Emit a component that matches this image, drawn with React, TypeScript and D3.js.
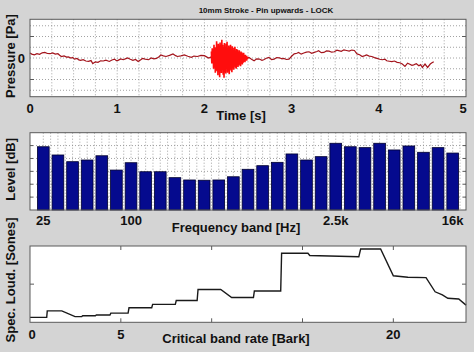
import * as d3 from "d3";

// pressure signal, time [s] vs pressure [Pa]
const pressureBefore: [number, number][] = [
  [0.00,0.23],[0.02,0.18],[0.05,0.15],[0.08,0.20],[0.11,0.17],[0.14,0.24],[0.17,0.26],[0.20,0.21],
  [0.23,0.20],[0.26,0.24],[0.29,0.18],[0.32,0.20],[0.34,0.13],[0.36,0.07],[0.39,0.10],[0.42,0.04],
  [0.44,0.05],[0.47,0.00],[0.49,0.03],[0.51,-0.05],[0.54,-0.02],[0.56,-0.09],[0.58,-0.11],[0.61,-0.08],
  [0.64,-0.14],[0.67,-0.16],[0.70,-0.12],[0.72,-0.26],[0.75,-0.18],[0.78,-0.20],[0.81,-0.13],[0.84,-0.14],
  [0.87,-0.10],[0.91,-0.16],[0.94,-0.09],[0.97,-0.05],[0.99,-0.12],[1.01,-0.11],[1.04,-0.04],[1.07,-0.08],
  [1.10,-0.03],[1.12,0.00],[1.15,-0.06],[1.18,-0.11],[1.21,-0.07],[1.24,-0.16],[1.27,-0.08],[1.29,-0.02],
  [1.32,-0.05],[1.36,-0.08],[1.39,0.00],[1.42,-0.04],[1.45,-0.02],[1.48,0.06],[1.50,0.14],[1.53,0.10],
  [1.56,0.07],[1.60,0.12],[1.64,0.19],[1.67,0.11],[1.69,0.07],[1.73,0.10],[1.77,0.14],[1.81,0.08],
  [1.85,0.03],[1.88,0.09],[1.92,0.07],[1.96,0.12],[2.00,0.11],[2.03,0.04],[2.05,0.00],[2.08,0.05],
];

// the rattle burst, sampled every 5 ms from 2.08 s
const burstStart = 2.08;
const burstStep = 0.005;
const burstValues = [
  0.3,-0.25,0.45,-0.2,0.38,-0.5,0.62,-0.4,0.5,-0.68,
  0.45,-0.55,0.78,-0.62,0.52,-0.8,0.66,-0.48,0.58,-0.9,
  0.72,-0.6,0.48,-0.7,0.85,-0.55,0.62,-0.78,0.5,-0.92,
  0.7,-0.58,0.45,-0.72,0.66,-0.5,0.75,-0.68,0.42,-0.62,
  0.58,-0.75,0.5,-0.45,0.62,-0.58,0.4,-0.66,0.55,-0.42,
  0.35,-0.55,0.48,-0.38,0.52,-0.45,0.3,-0.5,0.42,-0.3,
  0.38,-0.42,0.25,-0.35,0.36,-0.28,0.22,-0.38,0.3,-0.2,
  0.26,-0.3,0.18,-0.22,0.24,-0.15,0.12,-0.2,0.15,-0.08,
  0.1,-0.12,0.06,-0.04,0.03,
];

const pressureAfter: [number, number][] = [
  [2.50,0.02],[2.51,0.03],[2.54,-0.06],[2.57,-0.13],[2.60,-0.04],[2.63,-0.05],[2.66,-0.11],[2.68,-0.08],
  [2.71,-0.01],[2.74,0.03],[2.77,-0.07],[2.80,-0.05],[2.83,0.02],[2.86,0.01],[2.89,-0.04],[2.91,-0.02],
  [2.94,-0.07],[2.97,-0.05],[3.00,0.08],[3.03,0.19],[3.06,0.22],[3.08,0.26],[3.11,0.18],[3.14,0.23],
  [3.17,0.27],[3.20,0.29],[3.23,0.22],[3.26,0.26],[3.29,0.30],[3.31,0.34],[3.34,0.25],[3.37,0.26],
  [3.40,0.33],[3.43,0.32],[3.46,0.27],[3.49,0.29],[3.52,0.36],[3.54,0.34],[3.57,0.31],[3.60,0.38],
  [3.63,0.35],[3.66,0.32],[3.69,0.37],[3.72,0.35],[3.75,0.19],[3.78,0.15],[3.81,0.07],[3.84,0.11],
  [3.86,0.14],[3.89,0.09],[3.92,0.07],[3.95,0.02],[3.98,-0.02],[4.01,-0.06],[4.04,-0.08],[4.07,-0.05],
  [4.09,-0.13],[4.12,-0.15],[4.15,-0.17],[4.18,-0.14],[4.21,-0.20],[4.24,-0.22],[4.27,-0.28],[4.30,-0.39],
  [4.33,-0.24],[4.35,-0.28],[4.38,-0.34],[4.40,-0.32],[4.43,-0.27],[4.46,-0.36],[4.48,-0.31],[4.50,-0.44],
  [4.53,-0.28],[4.56,-0.44],[4.59,-0.28],[4.61,-0.22],[4.63,-0.17],
];

// third-octave bands and levels [dB]
const bands = [
  "25","31.5","40","50","63","80","100","125","160","200","250","315","400","500","630",
  "800","1k","1.25k","1.6k","2k","2.5k","3.15k","4k","5k","6.3k","8k","10k","12.5k","16k",
];
const levels = [
  49.1,42.7,37.5,38.8,42.1,31.0,36.7,29.7,29.7,25.1,23.3,23.1,23.3,25.8,31.6,
  34.4,37.0,43.5,38.8,41.4,51.8,49.1,48.4,51.8,46.6,49.7,44.8,48.4,44.2,
];
const bandLabels = ["25", "100", "2.5k", "16k"];

// specific loudness [sones] vs critical band rate [Bark]
const loudness: [number, number][] = [
  [0,0.13],[0.92,0.13],[0.95,0.30],[1.75,0.30],[2.48,0.15],[2.85,0.15],[2.9,0.17],[3.6,0.17],
  [3.65,0.19],[4.4,0.19],[4.45,0.24],[5.4,0.24],[5.45,0.38],[6.7,0.38],[6.75,0.47],[8.0,0.47],
  [8.05,0.57],[9.2,0.57],[9.25,0.86],[10.5,0.86],[11.1,0.65],[12.3,0.65],[12.35,0.82],[13.8,0.82],
  [13.85,1.81],[15.3,1.81],[15.4,1.75],[18.1,1.72],[18.2,1.92],[19.3,1.92],[20.0,1.22],[20.8,1.18],
  [21.8,1.17],[22.3,0.80],[22.7,0.72],[23.0,0.63],[23.6,0.61],[24,0.45],
];
const barkLabels = [0, 5, 20];

const W = 474;
const H = 352;
const L = 30;
const R = 466;
const font = "'Liberation Sans', Arial, sans-serif";
const gridColor = "#8a8a8a";
const frame = "#5a5a5a";

export default function App() {
  // panel 1
  const x1 = d3.scaleLinear().domain([0, 5]).range([L, R]);
  const y1 = d3.scaleLinear().domain([-1.8, 1.8]).range([96.7, 19.3]);
  const line1 = d3.line<[number, number]>().x(d => x1(d[0])).y(d => y1(d[1]));
  const burst = burstValues.map((v, i) => [burstStart + i * burstStep, v] as [number, number]);

  // panel 2
  const x2 = d3.scaleBand<string>().domain(bands).range([L, R]).paddingInner(0.2).paddingOuter(0.51);
  const y2 = d3.scaleLinear().domain([0, 60]).range([210, 132.7]);
  const step = x2.step();
  const bandGrid: number[] = [];
  bands.forEach(b => {
    const c = (x2(b) ?? 0) + x2.bandwidth() / 2;
    bandGrid.push(c, c + step / 2);
  });

  // panel 3
  const x3 = d3.scaleLinear().domain([0, 24]).range([L, R]);
  const y3 = d3.scaleLinear().domain([0, 2]).range([322.3, 246]);
  const line3 = d3.line<[number, number]>().x(d => x3(d[0])).y(d => y3(d[1]));

  const lbl = { fontFamily: font, fontWeight: 700, fontSize: 13, fill: "#111" } as const;

  return (
    <svg width={W} height={H} style={{ position: "absolute", left: 0, top: 0 }}>
      <rect width={W} height={H} fill="#d4d4d4" />

      {/* ---------- panel 1 ---------- */}
      <text x={266} y={13} textAnchor="middle" style={{ fontFamily: font, fontWeight: 700, fontSize: 8, fill: "#111" }}>
        10mm Stroke - Pin upwards - LOCK
      </text>
      <rect x={L} y={y1(1.8)} width={R - L} height={y1(-1.8) - y1(1.8)} fill="#fff" />
      {d3.range(0.25, 5, 0.25).map(t => (
        <line key={t} x1={x1(t)} x2={x1(t)} y1={y1(1.8)} y2={y1(-1.8)} stroke={gridColor} strokeWidth={0.8} strokeDasharray="1,2" />
      ))}
      {d3.range(-1.5, 1.51, 0.5).map(v => (
        <line key={v} x1={L} x2={R} y1={y1(v)} y2={y1(v)} stroke={gridColor} strokeWidth={0.8} strokeDasharray="1,2" />
      ))}
      {[-1, 1].map(v => (
        <g key={v}>
          <line x1={L} x2={L + 4} y1={y1(v)} y2={y1(v)} stroke={frame} />
          <line x1={R - 4} x2={R} y1={y1(v)} y2={y1(v)} stroke={frame} />
        </g>
      ))}
      <path d={line1(pressureBefore) ?? ""} fill="none" stroke="#a3141c" strokeWidth={1.2} />
      <path d={line1(pressureAfter) ?? ""} fill="none" stroke="#a3141c" strokeWidth={1.2} />
      <path d={line1(burst) ?? ""} fill="none" stroke="#ff0d0d" strokeWidth={1.6} />
      <rect x={L} y={y1(1.8)} width={R - L} height={y1(-1.8) - y1(1.8)} fill="none" stroke={frame} />
      <text x={25} y={y1(0) + 5} textAnchor="end" style={lbl}>0</text>
      {d3.range(0, 6).map(t => (
        <text key={t} x={Math.min(x1(t), 463)} y={113} textAnchor="middle" style={lbl}>{t}</text>
      ))}
      <text x={241} y={120} textAnchor="middle" style={lbl}>Time [s]</text>
      <text transform={`translate(15,${(y1(1.8) + y1(-1.8)) / 2 - 2}) rotate(-90)`} textAnchor="middle" style={lbl}>
        Pressure [Pa]
      </text>

      {/* ---------- panel 2 ---------- */}
      <rect x={L} y={y2(60)} width={R - L} height={y2(0) - y2(60)} fill="#fff" />
      {bandGrid.map((g, i) => (
        <line key={i} x1={g} x2={g} y1={y2(60)} y2={y2(0)} stroke={gridColor} strokeWidth={0.8} strokeDasharray="1,2" />
      ))}
      {d3.range(10, 60, 10).map(v => (
        <g key={v}>
          <line x1={L} x2={R} y1={y2(v)} y2={y2(v)} stroke={gridColor} strokeWidth={0.8} strokeDasharray="1,2" />
          <line x1={L} x2={L + 3} y1={y2(v)} y2={y2(v)} stroke={frame} />
          <line x1={R - 3} x2={R} y1={y2(v)} y2={y2(v)} stroke={frame} />
        </g>
      ))}
      {bands.map((b, i) => (
        <rect key={b} x={x2(b)} y={y2(levels[i])} width={x2.bandwidth()} height={y2(0) - y2(levels[i])}
          fill="#050a8e" stroke="#00002e" strokeWidth={0.8} />
      ))}
      <rect x={L} y={y2(60)} width={R - L} height={y2(0) - y2(60)} fill="none" stroke={frame} />
      {bandLabels.map(b => (
        <text key={b} x={(x2(b) ?? 0) + x2.bandwidth() / 2} y={225} textAnchor="middle" style={lbl}>{b}</text>
      ))}
      <text x={236} y={232} textAnchor="middle" style={lbl}>Frequency band [Hz]</text>
      <text transform={`translate(15,${(y2(60) + y2(0)) / 2 - 2}) rotate(-90)`} textAnchor="middle" style={lbl}>
        Level [dB]
      </text>

      {/* ---------- panel 3 ---------- */}
      <rect x={L} y={y3(2)} width={R - L} height={y3(0) - y3(2)} fill="#fff" />
      {[5, 10, 15, 20].map(b => (
        <g key={b}>
          <line x1={x3(b)} x2={x3(b)} y1={y3(2)} y2={y3(2) + 4} stroke={frame} />
          <line x1={x3(b)} x2={x3(b)} y1={y3(0) - 4} y2={y3(0)} stroke={frame} />
        </g>
      ))}
      <line x1={L} x2={L + 4} y1={y3(1)} y2={y3(1)} stroke={frame} />
      <line x1={R - 4} x2={R} y1={y3(1)} y2={y3(1)} stroke={frame} />
      <path d={line3(loudness) ?? ""} fill="none" stroke="#1a1a1a" strokeWidth={1.4} />
      <rect x={L} y={y3(2)} width={R - L} height={y3(0) - y3(2)} fill="none" stroke={frame} />
      {barkLabels.map(b => (
        <text key={b} x={x3(b) + (b === 0 ? 2 : 0)} y={338.5} textAnchor="middle" style={lbl}>{b}</text>
      ))}
      <text x={236} y={343} textAnchor="middle" style={lbl}>Critical band rate [Bark]</text>
      <text transform={`translate(15,280) rotate(-90)`} textAnchor="middle" style={lbl}>
        Spec. Loud. [Sones]
      </text>
    </svg>
  );
}
